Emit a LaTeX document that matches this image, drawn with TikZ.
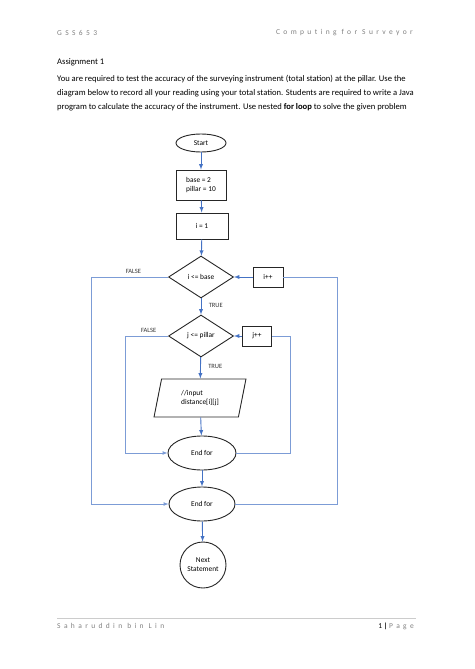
\documentclass[tikz,border=0pt]{standalone}
\usepackage{fontspec}
\setmainfont{Carlito}
\usepackage{tikz}
\usetikzlibrary{shapes,arrows}
\definecolor{lineblue}{RGB}{68,114,196}
\definecolor{headgray}{RGB}{128,128,128}

\begin{document}
\begin{tikzpicture}[x=1pt,y=-1pt,
    every node/.style={font=\fontsize{7.4}{8.8}\selectfont},
    box/.style={draw=black!85,line width=0.9pt,fill=white,inner sep=2pt},
    flow/.style={draw=lineblue,line width=0.9pt,-latex},
    loopline/.style={draw=lineblue!70,line width=0.7pt},
    spaced/.style={inner sep=0pt,text=headgray,font=\fontsize{7.5}{9}\selectfont\addfontfeature{LetterSpace=45,RawFeature=-liga}},
    lbl/.style={font=\fontsize{6.5}{8}\selectfont,text=black!80}]
\useasboundingbox (0,0) rectangle (474,669);
% page text
\node[spaced,anchor=west] (code) at (57,33) {GSS653};
\node[spaced,anchor=east] (course) at (413,33) {Computing for Surveyor};
\node[anchor=west,inner sep=0pt,font=\fontsize{8.6}{10}\selectfont] (title) at (57,62) {Assignment 1};
\node[anchor=north west,inner sep=0pt,align=left,font=\fontsize{8.6}{14}\selectfont] (task) at (57,75)
  {You are required to test the accuracy of the surveying instrument (total station) at the pillar. Use the\\
   diagram below to record all your reading using your total station. Students are required to write a Java\\
   program to calculate the accuracy of the instrument. Use nested \textbf{for loop} to solve the given problem};
% flowchart
\node[box,ellipse,minimum width=50,minimum height=18] (start) at (201,143) {Start};
\node[box,rectangle,minimum width=50,minimum height=30,align=left] (init) at (201,185) {base = 2\\pillar = 10};
\node[box,rectangle,minimum width=52,minimum height=26] (seti) at (202,226) {i = 1};
\node[box,diamond,minimum width=65,minimum height=42,inner sep=0pt] (condi) at (201,277) {i <= base};
\node[box,rectangle,minimum width=30,minimum height=20] (inci) at (268,277) {i++};
\node[box,diamond,minimum width=65,minimum height=42,inner sep=0pt] (condj) at (201,336) {j <= pillar};
\node[box,rectangle,minimum width=29,minimum height=20] (incj) at (257,336) {j++};
\node[box,trapezium,trapezium left angle=78,trapezium right angle=102,trapezium stretches=true,
      minimum width=92,minimum height=38,align=left] (input) at (200,398) {//input\\distance[i][j]};
\node[box,ellipse,minimum width=68,minimum height=34] (endj) at (202,453) {End for};
\node[box,ellipse,minimum width=66,minimum height=34] (endi) at (202,504) {End for};
\node[box,circle,minimum size=46,inner sep=0pt,align=center] (next) at (203,565) {Next\\Statement};

\draw[flow] (start) -- (init);
\draw[flow] (init) -- (seti);
\draw[flow] (seti) -- (condi);
\draw[flow] (condi) -- node[lbl,right,pos=0.45,xshift=4pt]{TRUE} (condj);
\draw[flow] (condj) -- node[lbl,right,pos=0.45,xshift=4pt]{TRUE} (input);
\draw[flow] (input) -- (endj);
\draw[flow] (endj) -- (endi);
\draw[flow] (endi) -- (next);
% outer loop
\draw[loopline,-latex] (condi.west) -- node[lbl,above,pos=0.45]{FALSE} ++(-77,0) |- (endi.west);
\draw[loopline] (endi.east) -- ++(102,0) |- (inci.east);
\draw[flow] (inci) -- (condi);
% inner loop
\draw[loopline,-latex] (condj.west) -- node[lbl,above,pos=0.45]{FALSE} ++(-43,0) |- (endj.west);
\draw[loopline] (endj.east) -- ++(54,0) |- (incj.east);
\draw[flow] (incj) -- (condj);
% footer
\draw[black!20,line width=0.6pt] (57,618) -- (416,618);
\node[spaced,anchor=west] (author) at (57,626) {Saharuddin bin Lin};
\node[anchor=east,inner sep=0pt,font=\fontsize{7.5}{9}\selectfont] (page) at (414,626) {1 \textbf{|} {\color{headgray}\addfontfeature{LetterSpace=45}Page}};
\end{tikzpicture}
\end{document}
